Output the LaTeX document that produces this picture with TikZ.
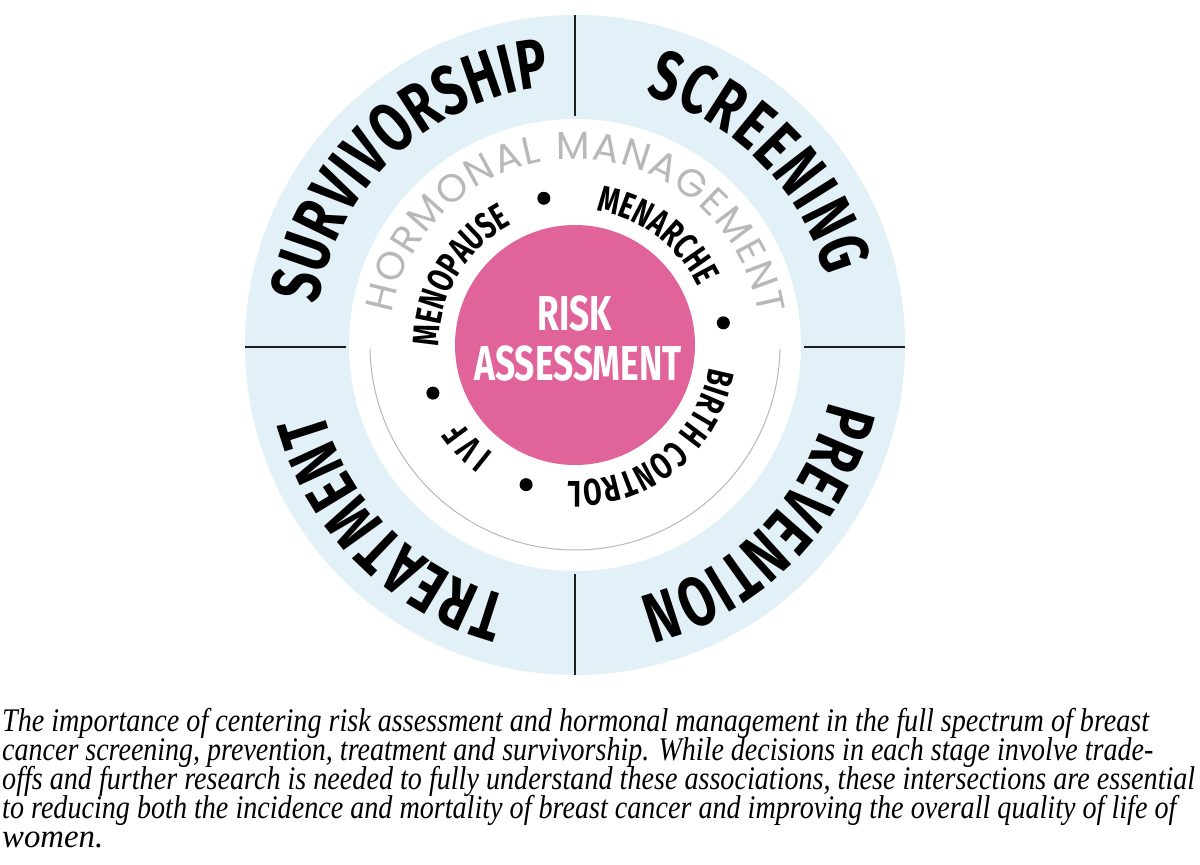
\documentclass[tikz,border=0pt]{standalone}
\usepackage{fontspec}
\usepackage{graphicx}
\setmainfont{Liberation Serif}
\newfontfamily\dinfont[FakeStretch=0.72]{Fira Sans}
\newfontfamily\hmfont{Poppins}
\usetikzlibrary{decorations.text}
\definecolor{ringblue}{RGB}{226,241,248}
\definecolor{riskpink}{RGB}{224,99,154}
\definecolor{hmgray}{RGB}{184,184,184}
\definecolor{linedark}{RGB}{30,30,30}
\newcommand\ringtext[6]{%
  \path[decorate,decoration={text along path,text={|#4|#6},text align={fit to path},text color=#5}]
    (#2:#1) arc[start angle=#2,end angle=#3,radius=#1];}
\newcommand\outerfont{\dinfont\bfseries\fontsize{70}{70}\selectfont}
\newcommand\innerfont{\dinfont\bfseries\fontsize{37}{37}\selectfont}
\newcommand\hmfontsize{\hmfont\fontsize{39}{39}\selectfont}
\begin{document}
\begin{tikzpicture}[x=1pt,y=1pt,
  divider/.style={draw=linedark,line width=2.2pt},
  dotmark/.style={circle,fill=black,minimum size=13pt,inner sep=0pt},
  risktext/.style={font=\dinfont\bfseries\fontsize{49}{49}\selectfont,text=white,inner sep=0pt,anchor=base},
  caption/.style={font=\itshape\fontsize{33}{29}\selectfont,inner sep=0pt,anchor=base west}]
\useasboundingbox (-575,-520) rectangle (625,345);
\fill[white] (-575,-520) rectangle (625,345);
% outer ring
\fill[ringblue] (0,0) circle[radius=330pt];
\fill[white] (0,0) circle[radius=226pt];
% dividers
\coordinate (t1) at (0,330); \coordinate (t2) at (0,229);
\coordinate (b1) at (0,-229); \coordinate (b2) at (0,-330);
\coordinate (l1) at (-330,-2); \coordinate (l2) at (-229,-2);
\coordinate (r1) at (229,-2); \coordinate (r2) at (330,-2);
\draw[divider] (t1) -- (t2);
\draw[divider] (b1) -- (b2);
\draw[divider] (l1) -- (l2);
\draw[divider] (r1) -- (r2);
% thin gray arc
\draw[hmgray,line width=1pt] (181:205pt) arc[start angle=181,end angle=359,radius=205pt];
% centre
\node[circle,fill=riskpink,minimum size=240pt,inner sep=0pt] (centre) at (0,0) {};
\node[risktext] (risk) at (0,15) {RISK};
\node[risktext] (assess) at (3,-35) {ASSESSMENT};
% outer labels
\ringtext{260pt}{171}{95.5}{\outerfont}{black}{SURVIVORSHIP}
\ringtext{260pt}{74.2}{15.3}{\outerfont}{black}{SCREENING}
\ringtext{260pt}{-12.6}{-75.6}{\outerfont}{black}{PREVENTION}
\ringtext{260pt}{-104.9}{-165.2}{\outerfont}{black}{TREATMENT}
% hormonal management
\ringtext{186pt}{170.4}{9.1}{\hmfontsize}{hmgray}{HORMONAL MANAGEMENT}
% inner labels
\ringtext{136pt}{180.5}{118.5}{\innerfont}{black}{MENOPAUSE}
\ringtext{136pt}{81}{25.5}{\innerfont}{black}{MENARCHE}
\ringtext{136pt}{-9.5}{-93}{\innerfont}{black}{BIRTH CONTROL}
\ringtext{136pt}{-127}{-146}{\innerfont}{black}{IVF}
% dots
\node[dotmark] (d1) at (102:150pt) {};
\node[dotmark] (d2) at (8.5:150pt) {};
\node[dotmark] (d3) at (-109.3:148pt) {};
\node[dotmark] (d4) at (-161.3:150pt) {};
% caption
\node[caption] (c1) at (-573,-386) {\resizebox{1147pt}{\height}{The importance of centering risk assessment and hormonal management in the full spectrum of breast}};
\node[caption] (c2) at (-573,-415) {\resizebox{1151pt}{\height}{cancer screening, prevention, treatment and survivorship. While decisions in each stage involve trade-}};
\node[caption] (c3) at (-573,-444) {\resizebox{1193pt}{\height}{offs and further research is needed to fully understand these associations, these intersections are essential}};
\node[caption] (c4) at (-573,-473) {\resizebox{1174pt}{\height}{to reducing both the incidence and mortality of breast cancer and improving the overall quality of life of}};
\node[caption] (c5) at (-573,-502) {\resizebox{101pt}{\height}{women.}};
\end{tikzpicture}
\end{document}
